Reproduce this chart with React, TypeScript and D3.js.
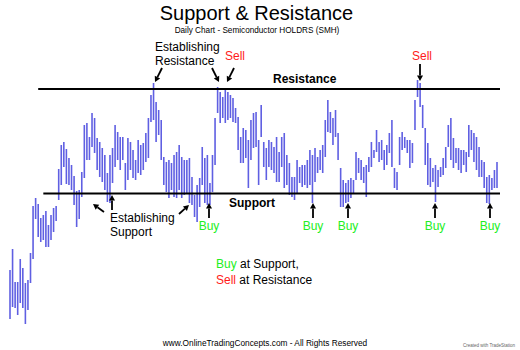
import React from "react";
import * as d3 from "d3";

// daily high / low of SMH
const HIGHS = [
  33.0, 35.1, 31.8, 31.8, 34.1, 33.2, 31.7, 32.0, 34.7, 39.4,
  40.2, 39.6, 38.2, 38.5, 38.9, 37.5, 38.5, 39.2, 39.4, 43.1,
  45.5, 45.8, 45.1, 44.2, 43.5, 42.4, 40.9, 41.0, 42.8, 47.5,
  47.7, 46.3, 48.7, 48.2, 46.2, 45.8, 45.2, 44.5, 42.7, 44.5,
  45.2, 47.5, 46.8, 46.3, 46.3, 43.7, 46.2, 45.8, 45.0, 44.0,
  46.0, 45.5, 45.7, 46.7, 48.2, 50.5, 51.7, 49.8, 49.0, 48.0,
  44.3, 43.8, 44.0, 43.7, 44.5, 44.8, 45.5, 44.3, 44.0, 44.0,
  44.2, 42.3, 40.5, 41.5, 42.2, 45.3, 44.2, 44.5, 41.7, 44.5,
  48.2, 51.3, 50.8, 50.3, 51.0, 50.8, 50.5, 50.2, 49.2, 48.3,
  46.3, 47.2, 47.0, 46.0, 48.0, 48.7, 48.8, 46.0, 49.5, 45.8,
  45.2, 46.0, 45.8, 45.3, 46.3, 44.8, 46.3, 46.7, 44.5, 43.7,
  42.3, 42.3, 44.0, 43.3, 43.5, 43.5, 44.0, 45.0, 44.5, 45.2,
  44.3, 45.0, 45.5, 48.0, 50.0, 48.8, 48.2, 49.0, 46.7, 43.2,
  42.0, 41.7, 42.0, 42.2, 42.0, 44.8, 44.2, 44.0, 43.3, 43.5,
  44.3, 45.8, 45.0, 47.0, 45.8, 46.0, 45.0, 45.5, 46.7, 48.0,
  43.2, 42.8, 46.3, 46.8, 46.3, 46.0, 46.0, 45.7, 50.0, 52.0,
  51.7, 49.5, 47.2, 45.7, 44.2, 43.2, 43.5, 43.0, 43.3, 44.2,
  45.3, 47.5, 48.2, 46.2, 45.2, 45.2, 45.0, 45.0, 44.8, 47.5,
  47.0, 46.7, 46.3, 45.3, 44.0, 43.8, 42.3, 42.5, 42.2, 43.0,
  43.8,
];
const LOWS = [
  28.1, 29.3, 29.2, 28.5, 29.7, 29.2, 27.6, 29.0, 31.7, 34.1,
  38.1, 36.3, 35.8, 36.0, 35.3, 35.3, 36.0, 36.8, 37.9, 40.0,
  41.5, 43.3, 41.6, 41.5, 41.0, 39.5, 37.3, 38.1, 40.3, 42.2,
  44.0, 44.0, 45.3, 44.7, 43.0, 42.3, 41.8, 41.0, 39.8, 39.7,
  41.7, 43.3, 44.0, 43.0, 44.0, 41.0, 42.0, 43.0, 42.2, 42.0,
  42.7, 42.5, 43.0, 43.8, 44.2, 47.8, 48.0, 45.8, 46.5, 44.0,
  41.5, 40.8, 40.2, 41.0, 40.3, 40.2, 41.0, 40.2, 40.5, 40.7,
  39.7, 39.5, 38.3, 37.8, 39.3, 41.5, 39.7, 39.5, 39.5, 40.8,
  43.5, 48.7, 47.7, 48.2, 47.7, 48.0, 48.2, 47.8, 47.7, 45.0,
  43.7, 43.7, 44.2, 41.2, 44.0, 45.2, 45.3, 41.5, 46.3, 43.3,
  42.0, 43.3, 43.0, 42.7, 41.8, 41.8, 43.3, 41.2, 41.5, 40.5,
  40.3, 40.0, 40.7, 41.7, 41.3, 41.5, 41.2, 41.5, 39.7, 41.8,
  42.7, 43.0, 42.7, 44.3, 46.8, 46.7, 45.5, 46.3, 44.0, 39.3,
  39.3, 39.7, 39.8, 40.2, 40.7, 42.0, 42.7, 42.0, 41.7, 40.3,
  42.8, 43.3, 44.2, 44.8, 43.8, 44.0, 43.0, 43.5, 44.7, 43.3,
  41.2, 41.0, 43.5, 45.0, 45.2, 44.7, 43.2, 43.7, 47.0, 50.3,
  49.3, 47.2, 43.5, 41.5, 41.3, 41.8, 39.8, 41.3, 42.3, 42.5,
  43.2, 45.3, 44.0, 43.2, 43.7, 43.0, 42.7, 43.5, 42.8, 44.3,
  45.0, 43.8, 43.0, 42.3, 42.3, 41.2, 39.7, 39.6, 41.0, 41.2,
  41.2,
];

const RESISTANCE = 51.1;
const SUPPORT = 40.65;

const W = 520;
const H = 350;
const FONT = "'Liberation Sans', Arial, sans-serif";

function Arrow({ x1, y1, x2, y2 }) {
  const a = Math.atan2(y2 - y1, x2 - x1);
  const len = 5.5;
  const wid = 3;
  const bx = x2 - len * Math.cos(a);
  const by = y2 - len * Math.sin(a);
  const px = -Math.sin(a) * wid;
  const py = Math.cos(a) * wid;
  return (
    <g>
      <line x1={x1} y1={y1} x2={bx} y2={by} stroke="#000" strokeWidth={1.8} />
      <polygon
        points={`${x2},${y2} ${bx + px},${by + py} ${bx - px},${by - py}`}
        fill="#000"
      />
    </g>
  );
}

const BUYS = [209, 313, 348, 435, 490];

const App = () => {
  const n = HIGHS.length;
  const x = d3.scaleLinear().domain([0, n - 1]).range([10, 497]);
  const y = d3.scaleLinear().domain([27, 54]).range([330, 60]);

  return (
    <svg
      width={W}
      height={H}
      style={{ position: "absolute", left: 0, top: 0, background: "#fff" }}
      fontFamily={FONT}
    >
      <rect width={W} height={H} fill="#fff" />
      <text x={256.5} y={20} fontSize={20} textAnchor="middle">
        Support &amp; Resistance
      </text>
      <text x={257} y={33} fontSize={8.2} textAnchor="middle">
        Daily Chart - Semiconductor HOLDRS (SMH)
      </text>

      {HIGHS.map((h, i) => (
        <line
          key={i}
          x1={x(i)}
          x2={x(i)}
          y1={y(h)}
          y2={y(LOWS[i])}
          stroke="#5f5fe2"
          strokeWidth={1.6}
        />
      ))}

      <line x1={x(11)} x2={500} y1={y(RESISTANCE)} y2={y(RESISTANCE)} stroke="#000" strokeWidth={2} />
      <line x1={x(13)} x2={500} y1={y(SUPPORT)} y2={y(SUPPORT)} stroke="#000" strokeWidth={2} />

      <text x={273} y={83} fontSize={12} fontWeight="bold">Resistance</text>
      <text x={229} y={207} fontSize={12} fontWeight="bold">Support</text>

      <text x={155} y={51} fontSize={12}>Establishing</text>
      <text x={155} y={65} fontSize={12}>Resistance</text>
      <text x={225} y={60} fontSize={12} fill="#ff1a1a">Sell</text>
      <text x={412} y={60} fontSize={12} fill="#ff1a1a">Sell</text>

      <Arrow x1={162} y1={68} x2={155} y2={82} />
      <Arrow x1={212} y1={68} x2={219} y2={82} />
      <Arrow x1={234} y1={68} x2={227} y2={82} />
      <Arrow x1={420} y1={64} x2={420} y2={81} />

      <text x={110} y={222} fontSize={12}>Establishing</text>
      <text x={110} y={236} fontSize={12}>Support</text>
      <Arrow x1={104} y1={212} x2={93} y2={204} />
      <Arrow x1={112} y1={210} x2={112} y2={195} />
      <Arrow x1={179} y1={214} x2={189} y2={205} />

      {BUYS.map((bx) => (
        <g key={bx}>
          <Arrow x1={bx} y1={218} x2={bx} y2={203} />
          <text x={bx} y={230} fontSize={12} textAnchor="middle" fill="#22ee22">
            Buy
          </text>
        </g>
      ))}

      <text x={216} y={268} fontSize={12}>
        <tspan fill="#22ee22">Buy</tspan> at Support,
      </text>
      <text x={216} y={284} fontSize={12}>
        <tspan fill="#ff1a1a">Sell</tspan> at Resistance
      </text>

      <text x={265} y={346} fontSize={8.3} textAnchor="middle">
        www.OnlineTradingConcepts.com - All Rights Reserved
      </text>
      <text x={515} y={347} fontSize={4.5} textAnchor="end" fill="#666">
        Created with TradeStation
      </text>
    </svg>
  );
};

export default App;
